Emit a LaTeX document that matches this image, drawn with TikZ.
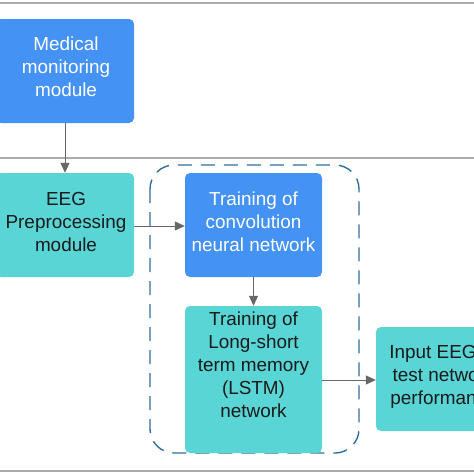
\documentclass[tikz,border=0pt]{standalone}
\usepackage{fontspec}
\setmainfont{Liberation Sans}
\usetikzlibrary{arrows.meta}
\definecolor{bluebox}{HTML}{4392F4}
\definecolor{tealbox}{HTML}{5AD5D6}
\definecolor{dashc}{HTML}{2F6E9E}
\definecolor{arrc}{HTML}{676767}
\definecolor{rulec}{HTML}{ABABAB}
\definecolor{txtdark}{HTML}{1A1A1A}
\tikzset{
  box/.style={rectangle, rounded corners=5pt, inner sep=0pt, draw=none},
  bluestyle/.style={box, fill=bluebox},
  tealstyle/.style={box, fill=tealbox},
  lbl/.style={align=center, font=\fontsize{18.9}{23}\selectfont, inner sep=0pt},
  conn/.style={draw=arrc, line width=1pt, -{Triangle[length=10pt,width=9pt]}},
  rule/.style={draw=rulec, line width=1.5pt},
}
\begin{document}
\begin{tikzpicture}[x=1pt,y=-1pt]
\useasboundingbox (0,0) rectangle (474,474);
\begin{scope}
\clip (0,0) rectangle (474,474);
% horizontal rules
\coordinate (r1a) at (0,3); \coordinate (r1b) at (474,3);
\coordinate (r2a) at (0,158); \coordinate (r2b) at (474,158);
\coordinate (r3a) at (0,471); \coordinate (r3b) at (474,471);
\draw[rule] (r1a) -- (r1b);
\draw[rule] (r2a) -- (r2b);
\draw[rule] (r3a) -- (r3b);
% dashed group
\draw[dashc, line width=1.4pt, dash pattern=on 14pt off 9pt, rounded corners=24pt] (150,165) rectangle (359,453);
% boxes
\node[bluestyle, minimum width=138pt, minimum height=104pt] (med) at (65,71) {};
\node[lbl, text=white] (medt) at (66,67) {Medical\\monitoring\\module};
\node[tealstyle, minimum width=138pt, minimum height=104pt] (eeg) at (65,225) {};
\node[lbl, text=txtdark] (eegt) at (66,222) {EEG\\Preprocessing\\module};
\node[bluestyle, minimum width=137pt, minimum height=104pt] (cnn) at (253.5,225) {};
\node[lbl, text=white] (cnnt) at (253.5,222) {Training of\\convolution\\neural network};
\node[tealstyle, minimum width=137pt, minimum height=147pt] (lstm) at (253.5,379.5) {};
\node[lbl, text=txtdark] (lstmt) at (253.5,365) {Training of\\Long-short\\term memory\\(LSTM)\\network};
\node[tealstyle, minimum width=137pt, minimum height=104pt] (inp) at (444.5,379) {};
\node[lbl, text=txtdark] (inpt) at (443.5,377) {Input EEG to\\test network\\performance};
% connectors
\draw[conn] (med.south) -- (eeg.north);
\draw[conn] (eeg.east |- 0,226) -- (cnn.west |- 0,226);
\draw[conn] (cnn.south) -- (lstm.north);
\draw[conn] (lstm.east |- 0,380) -- (inp.west |- 0,380);
\end{scope}
\end{tikzpicture}
\end{document}
